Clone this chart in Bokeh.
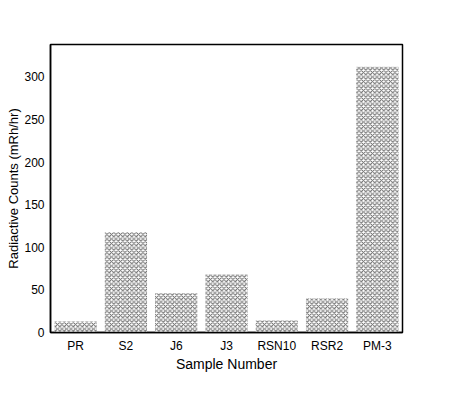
from bokeh.plotting import figure
from bokeh.models import Range1d, FactorRange, ColumnDataSource, Spacer
from bokeh.layouts import row
from bokeh.embed import file_html
from bokeh.resources import INLINE

samples = ["PR", "S2", "J6", "J3", "RSN10", "RSR2", "PM-3"]
counts = [13, 118, 46, 68, 14, 40, 312]
y_ticks = [0, 50, 100, 150, 200, 250, 300]
x_title = "Sample Number"
y_title = "Radiactive Counts (mRh/hr)"

src = ColumnDataSource(dict(x=samples, top=counts))

p = figure(width=463, height=374, x_range=FactorRange(*samples, range_padding=0),
           y_range=Range1d(0, 338), output_backend="svg", toolbar_location=None,
           min_border_left=0, min_border_top=44, min_border_right=64, min_border_bottom=0)

p.vbar(x="x", top="top", width=0.84, source=src, fill_color="white", line_color=None,
       hatch_pattern="x", hatch_scale=4.5, hatch_color="#666666", hatch_weight=1)

p.grid.visible = False
p.outline_line_color = "black"
p.outline_line_width = 1.5
for ax in (p.xaxis, p.yaxis):
    ax.axis_line_color = "black"
    ax.axis_line_width = 1.5
    ax.major_tick_line_color = None
    ax.minor_tick_line_color = None
    ax.major_label_text_font = "Liberation Sans"
    ax.major_label_text_font_size = "12px"
    ax.major_label_text_color = "black"
    ax.axis_label_text_font = "Liberation Sans"
    ax.axis_label_text_font_style = "normal"
    ax.axis_label_text_color = "black"
p.xaxis.axis_label_text_font_size = "14px"
p.yaxis.axis_label_text_font_size = "13px"
p.yaxis.ticker = y_ticks
p.xaxis.axis_label = x_title
p.yaxis.axis_label = y_title
p.xaxis.major_label_standoff = 0
p.yaxis.major_label_standoff = 0
p.xaxis.axis_label_standoff = 0
p.yaxis.axis_label_standoff = 0
p.background_fill_color = "white"
p.border_fill_color = "white"

layout = row(Spacer(width=3, height=374), p)

open("out.html", "w").write(file_html(layout, INLINE))
